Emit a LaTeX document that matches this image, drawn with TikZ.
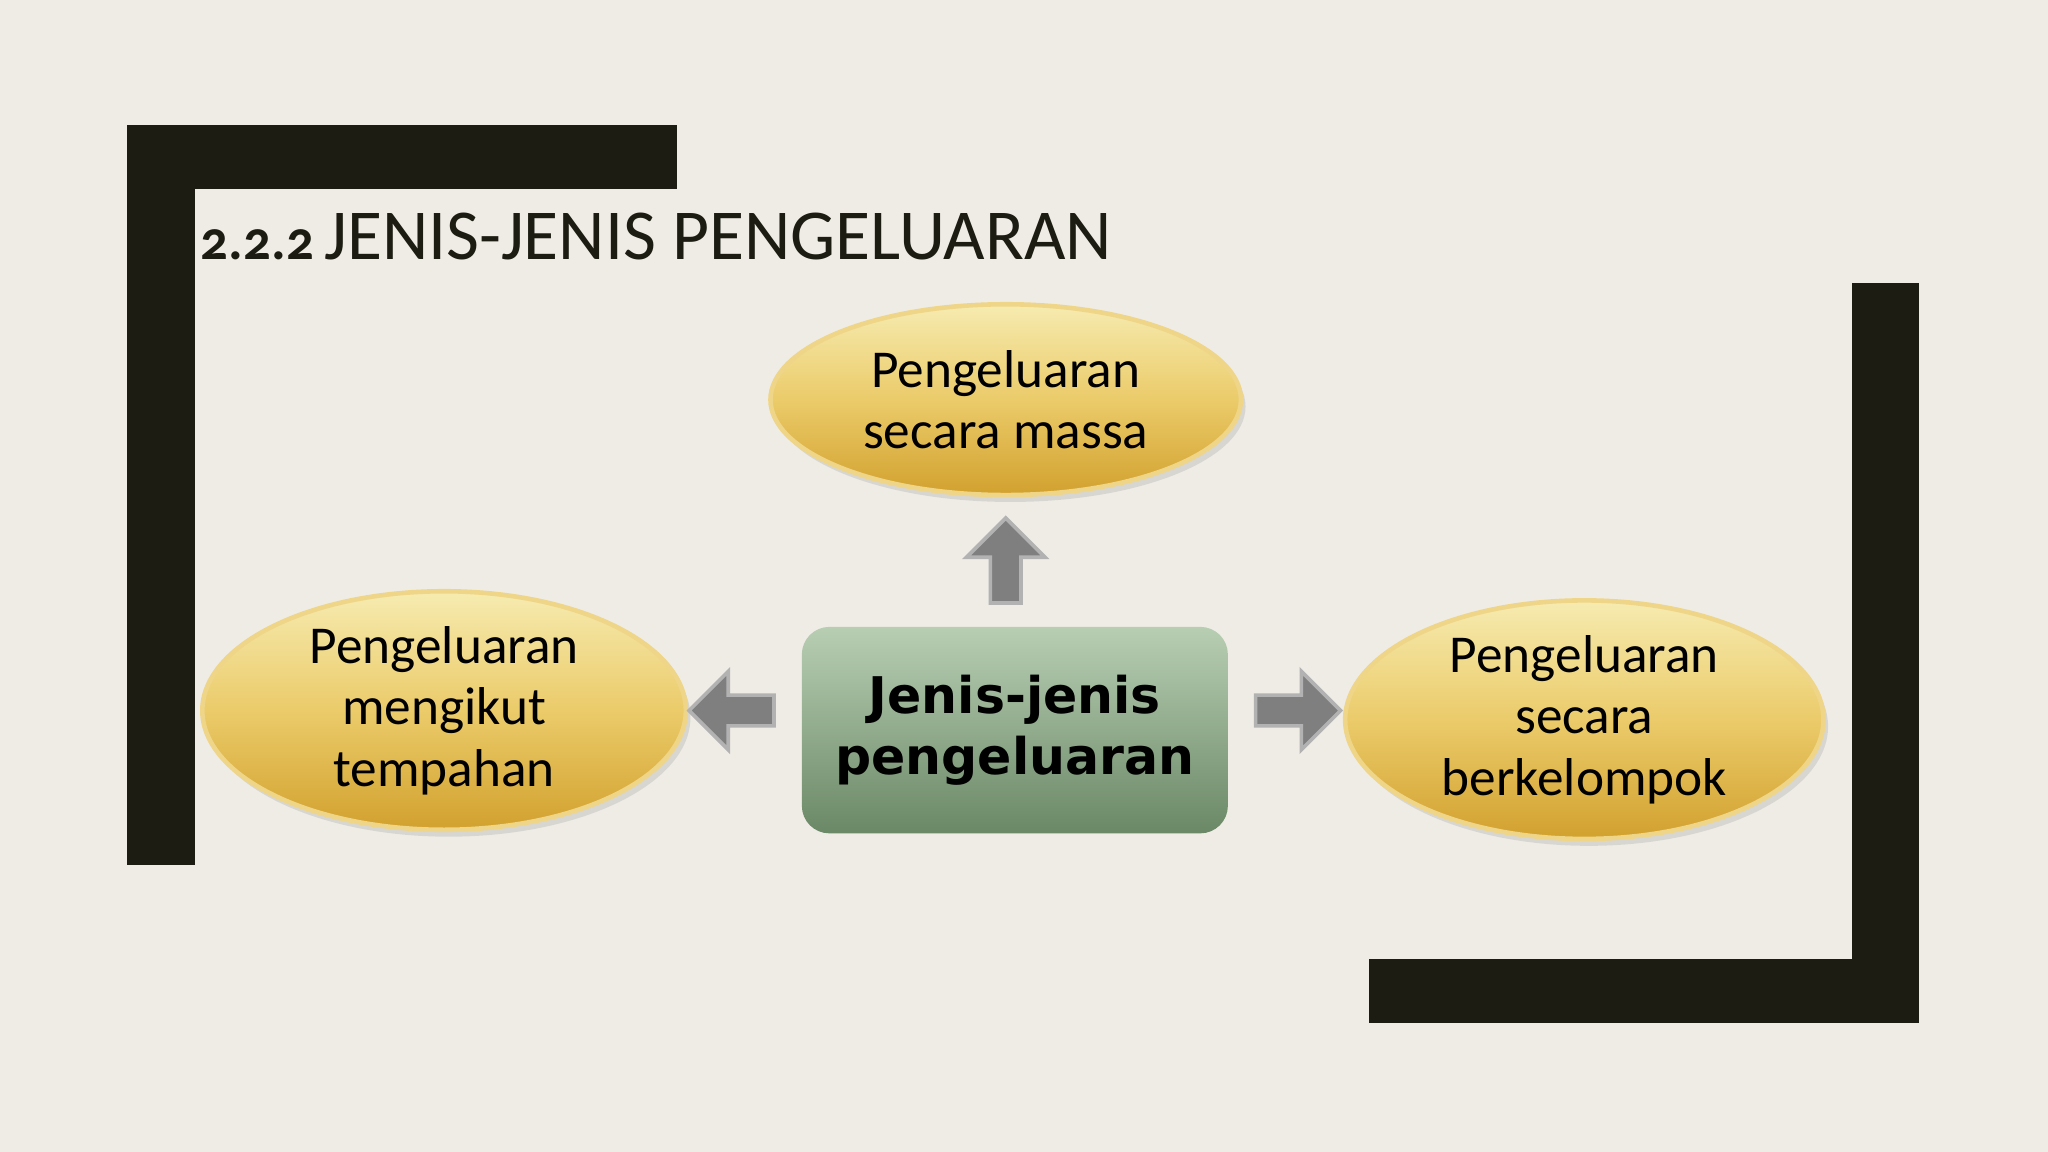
\documentclass[tikz,border=0pt]{standalone}
\usepackage{fontspec}
\setmainfont{Carlito}
\newfontfamily\boldsans{DejaVu Sans}
\usetikzlibrary{shapes.geometric,shapes.arrows,shadows}
\definecolor{bg}{HTML}{EFECE6}
\definecolor{bar}{HTML}{1C1C12}
\definecolor{goldT}{HTML}{F6EBB0}
\definecolor{goldM}{HTML}{EBCB6A}
\definecolor{goldB}{HTML}{D2A12E}
\definecolor{grnT}{HTML}{B8CEB3}
\definecolor{grnB}{HTML}{6A8866}
\definecolor{arr}{HTML}{7F7F7F}
\tikzset{
  gold/.style={ellipse, top color=goldT, bottom color=goldB, middle color=goldM, draw=goldM!80!white, line width=1pt, align=center, font=\fontsize{11.6}{13.4}\selectfont, text=black, inner sep=0pt, drop shadow={opacity=0.2, shadow xshift=1pt, shadow yshift=-1.5pt}},
  bararea/.style={fill=bar, draw=none},
  garrow/.style={single arrow, fill=arr, draw=arr!60!white, line width=0.8pt, single arrow head extend=4.5pt, minimum height=0.65cm, minimum width=0.6cm, inner sep=2.5pt}
}
\begin{document}
\begin{tikzpicture}[x=0.01cm,y=-0.01cm]
\fill[bg] (0,0) rectangle (1568,882);
\useasboundingbox (0,0) rectangle (1568,882);
% brackets
\fill[bararea] (97,96) rectangle (518,145);
\fill[bararea] (97,96) rectangle (149,662);
\fill[bararea] (1418,217) rectangle (1469,783);
\fill[bararea] (1048,734) rectangle (1469,783);
% title
\node[anchor=base west, inner sep=0, text=bar] (title) at (153,199) {{\fontsize{12}{14}\selectfont\addfontfeature{Numbers=OldStyle}\textbf{2.2.2}} \fontsize{15.6}{18}\selectfont JENIS-JENIS PENGELUARAN};
% ellipses
\node[gold, minimum width=3.6cm, minimum height=1.46cm] (top) at (770,306) {Pengeluaran\\secara massa};
\node[gold, minimum width=3.7cm, minimum height=1.7cm] (left) at (340,544) {Pengeluaran\\mengikut\\tempahan};
\node[gold, minimum width=3.66cm, minimum height=1.74cm] (right) at (1213,551) {Pengeluaran\\secara\\berkelompok};
% center
\node[rounded corners=6pt, top color=grnT, bottom color=grnB, minimum width=3.26cm, minimum height=1.58cm, align=center, font=\fontsize{11}{13.2}\selectfont\boldsans\bfseries, text=black] (center) at (777,559) {Jenis-jenis\\pengeluaran};
% arrows
\node[garrow, shape border rotate=90] (aup) at (770,435) {};
\node[garrow, shape border rotate=180] (aleft) at (566,544) {};
\node[garrow, shape border rotate=0] (aright) at (988,544) {};
\end{tikzpicture}
\end{document}
